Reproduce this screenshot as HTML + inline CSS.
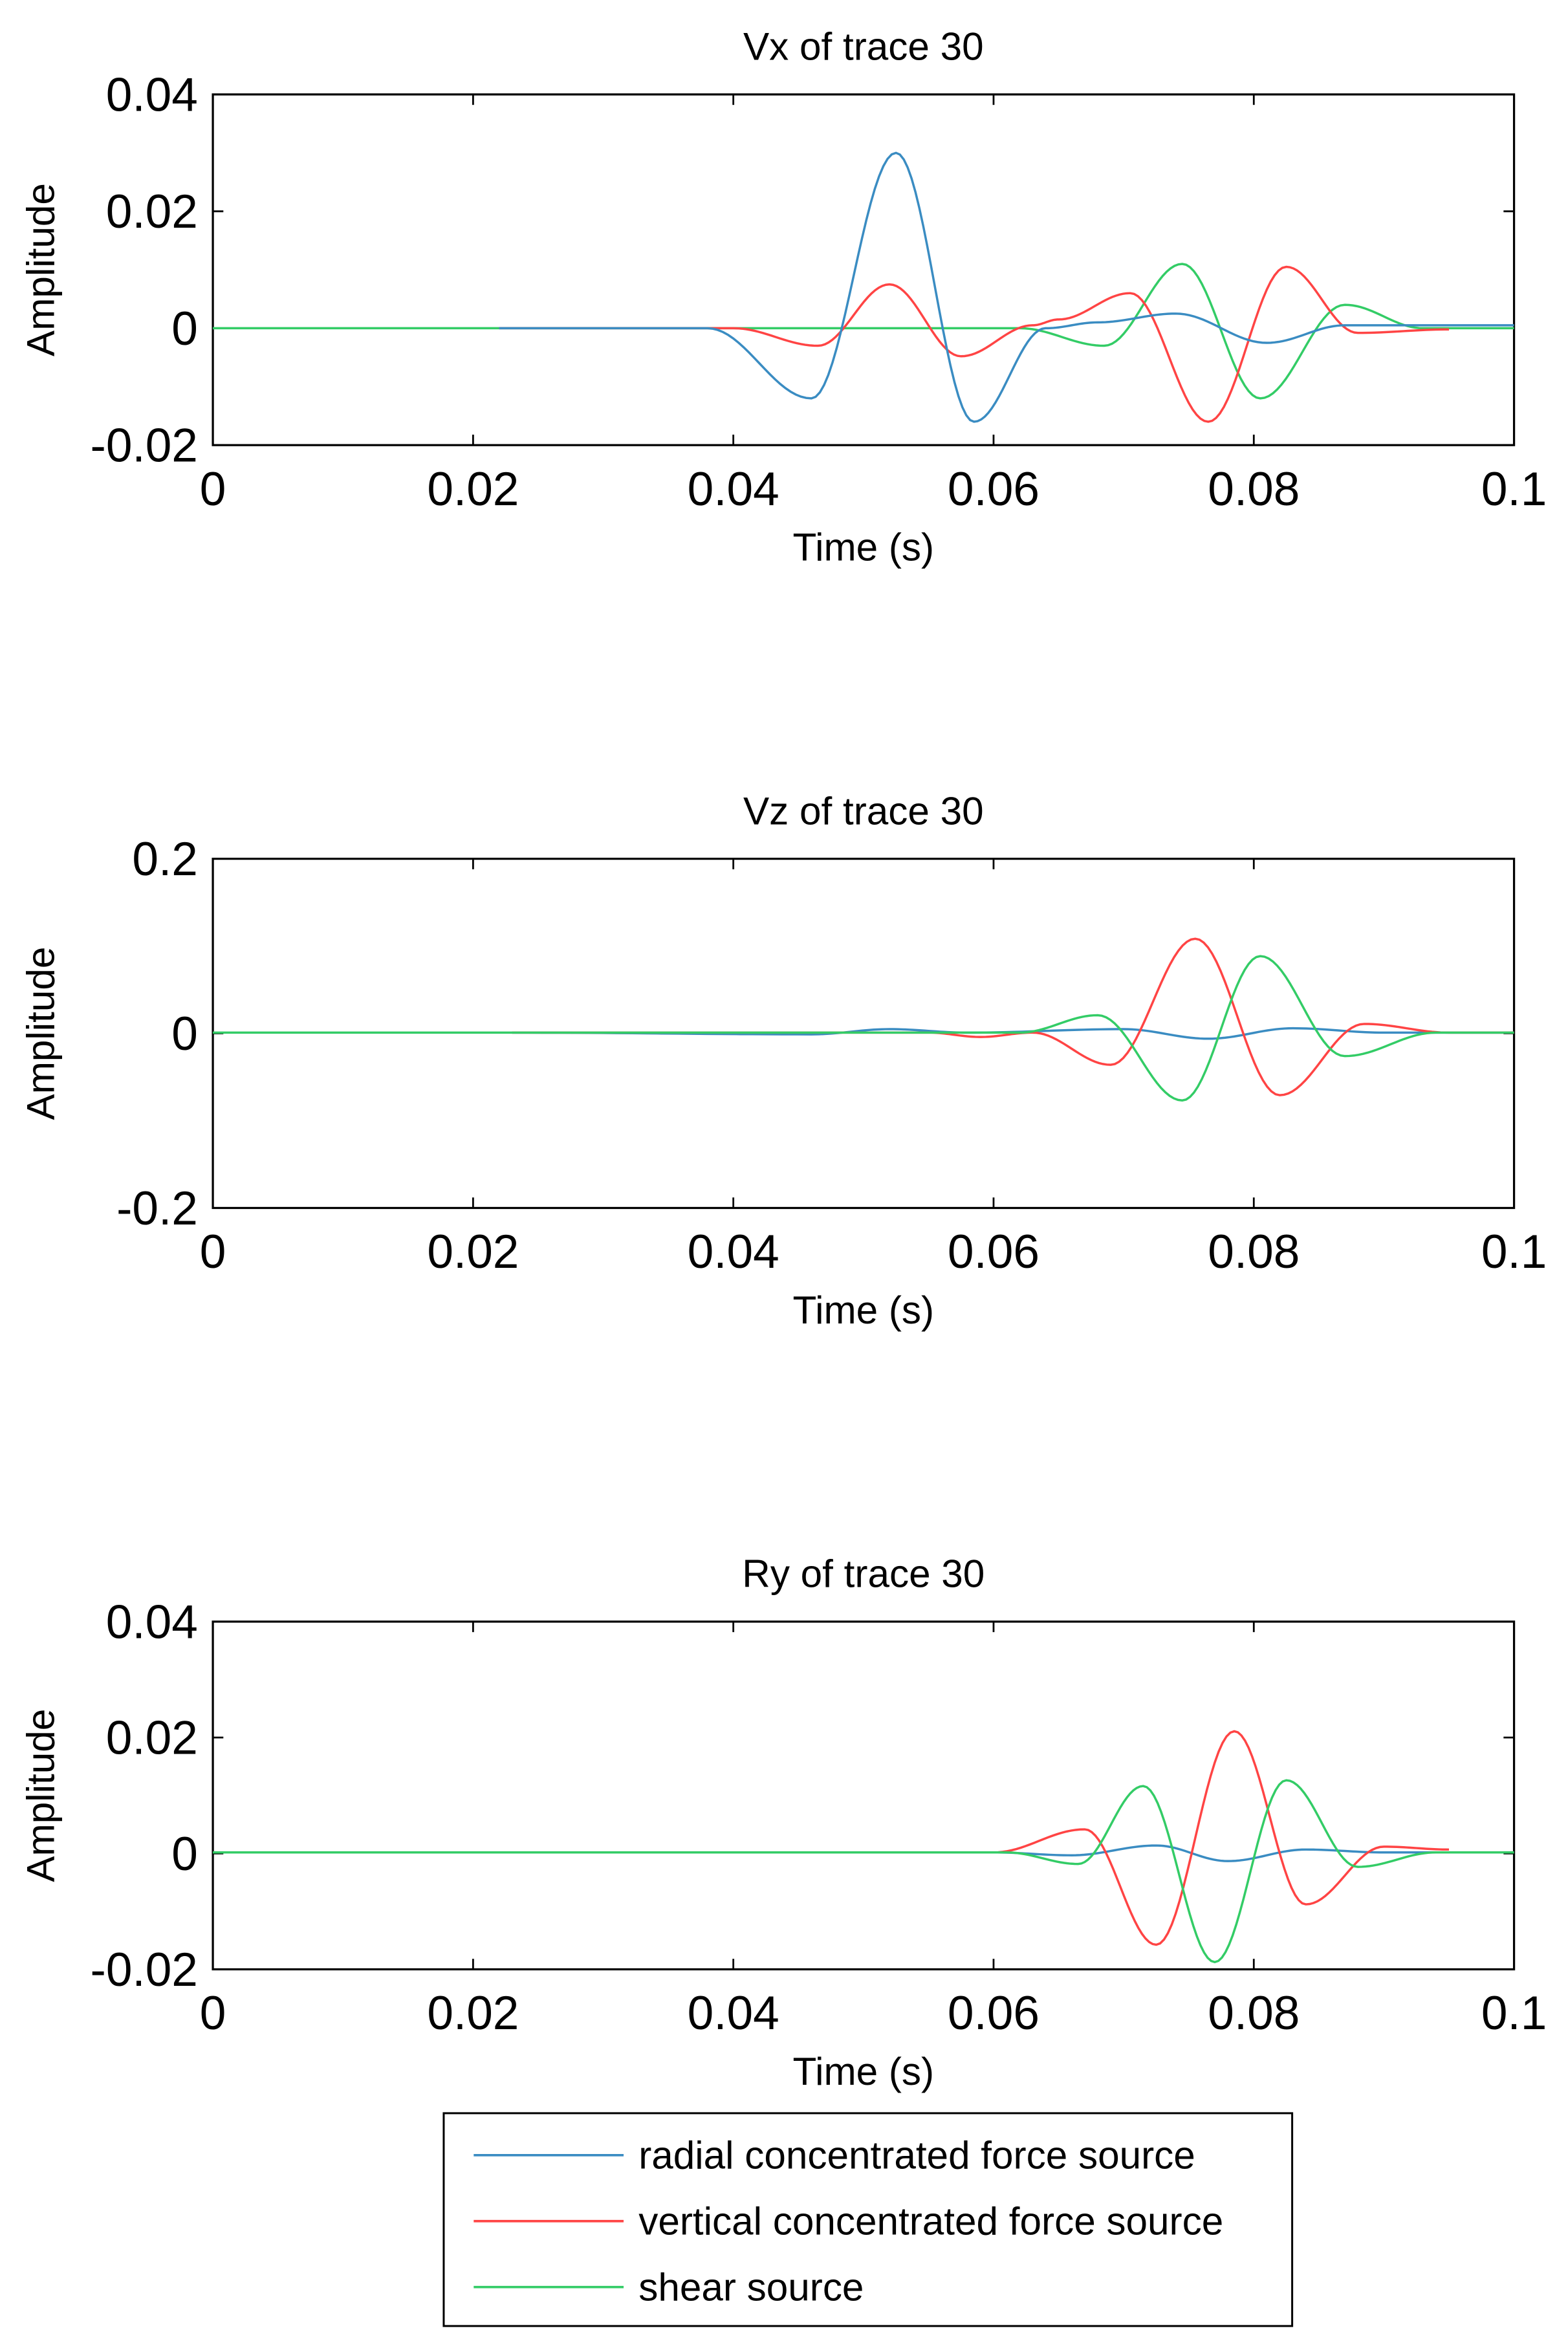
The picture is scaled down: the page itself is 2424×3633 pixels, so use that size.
<!DOCTYPE html>
<html><head><meta charset="utf-8"><style>
html,body{margin:0;padding:0;background:#fff;}
svg{display:block;}
text{font-family:"Liberation Sans",Arial,sans-serif;fill:#000;}
</style></head><body>
<svg id="s" width="2424" height="3633" viewBox="0 0 1046 1568" preserveAspectRatio="none" xmlns="http://www.w3.org/2000/svg">
<rect width="1046" height="1568" fill="#fff"/>
<g id="g"></g>
<rect x="296" y="1410" width="566" height="142" fill="none" stroke="#000" stroke-width="1.3"/>
<line x1="316" y1="1438" x2="416" y2="1438" stroke="#3a8cc2" stroke-width="1.6"/>
<line x1="316" y1="1482" x2="416" y2="1482" stroke="#ff4444" stroke-width="1.6"/>
<line x1="316" y1="1526" x2="416" y2="1526" stroke="#33cc66" stroke-width="1.6"/>
<text x="426" y="1447" font-size="26">radial concentrated force source</text>
<text x="426" y="1491" font-size="26">vertical concentrated force source</text>
<text x="426" y="1535" font-size="26">shear source</text>
</svg>
<script>
var NS="http://www.w3.org/2000/svg",g=document.getElementById('g');
function el(n,a,t){var e=document.createElementNS(NS,n);for(var k in a)e.setAttribute(k,a[k]);if(t!=null)e.textContent=t;g.appendChild(e);return e;}
var L=142,R=1010;
function X(t){return L+t/0.1*(R-L);}
function curve(pts,y0,sc,col){
 var d="";
 for(var i=0;i<pts.length-1;i++){
  var a=pts[i],b=pts[i+1];
  for(var k=0;k<=20;k++){var f=k/20,w=(1-Math.cos(Math.PI*f))/2;
   var t=a[0]+(b[0]-a[0])*f,v=a[1]+(b[1]-a[1])*w;
   d+=(d?"L":"M")+X(t).toFixed(2)+","+(y0-v*sc).toFixed(2);}
 }
 el('path',{d:d,fill:'none',stroke:col,'stroke-width':1.5});
}
function axes(top,bot,ylabels,title){
 el('rect',{x:L,y:top,width:R-L,height:bot-top,fill:'none',stroke:'#000','stroke-width':1.4});
 for(var i=0;i<=5;i++){var x=X(i*0.02);
  el('line',{x1:x,y1:top,x2:x,y2:top+7,stroke:'#000','stroke-width':1.2});
  el('line',{x1:x,y1:bot,x2:x,y2:bot-7,stroke:'#000','stroke-width':1.2});
  el('text',{x:x,y:bot+40,'font-size':31.5,'text-anchor':'middle'},['0','0.02','0.04','0.06','0.08','0.1'][i]);}
 for(var j=0;j<ylabels.length;j++){var y=top+(bot-top)*j/(ylabels.length-1);
  el('line',{x1:L,y1:y,x2:L+7,y2:y,stroke:'#000','stroke-width':1.2});
  el('line',{x1:R,y1:y,x2:R-7,y2:y,stroke:'#000','stroke-width':1.2});
  el('text',{x:L-10,y:y+11,'font-size':31.5,'text-anchor':'end'},ylabels[j]);}
 el('text',{x:576,y:top-23,'font-size':26,'text-anchor':'middle'},title);
 el('text',{x:576,y:bot+77,'font-size':26,'text-anchor':'middle'},'Time (s)');
 var cy=(top+bot)/2;
 el('text',{x:0,y:0,'font-size':26,'text-anchor':'middle',transform:'translate(36,'+cy+') rotate(-90)'},'Amplitude');
}
// Plot 1
axes(63,297,['0.04','0.02','0','-0.02'],'Vx of trace 30');
var y1=219,s1=3900;
curve([[0,0],[0.062,0],[0.0685,-0.003],[0.0745,0.011],[0.0805,-0.012],[0.087,0.004],[0.093,0],[0.1,0]],y1,s1,'#33cc66');
curve([[0.022,0],[0.040,0],[0.0465,-0.003],[0.052,0.0075],[0.0575,-0.0048],[0.063,0.0005],[0.065,0.0015],[0.0705,0.006],[0.0765,-0.016],[0.0825,0.0105],[0.088,-0.0008],[0.095,-0.0002]],y1,s1,'#ff4444');
curve([[0.022,0],[0.038,0],[0.046,-0.012],[0.0525,0.030],[0.0585,-0.016],[0.064,0],[0.068,0.001],[0.074,0.0025],[0.081,-0.0025],[0.087,0.0005],[0.1,0.0005]],y1,s1,'#3a8cc2');
// Plot 2
axes(573,806,['0.2','0','-0.2'],'Vz of trace 30');
var y2=689,s2=580;
curve([[0.023,0],[0.046,-0.002],[0.052,0.004],[0.058,0],[0.07,0.004],[0.0765,-0.007],[0.083,0.005],[0.09,0],[0.1,0]],y2,s2,'#3a8cc2');
curve([[0.023,0],[0.055,0],[0.059,-0.005],[0.063,0],[0.069,-0.037],[0.0755,0.108],[0.082,-0.072],[0.0885,0.01],[0.095,0],[0.1,0]],y2,s2,'#ff4444');
curve([[0,0],[0.062,0],[0.068,0.02],[0.0745,-0.078],[0.0805,0.088],[0.087,-0.027],[0.094,0],[0.1,0]],y2,s2,'#33cc66');
// Plot 3
axes(1082,1314,['0.04','0.02','0','-0.02'],'Ry of trace 30');
var y3=1236,s3=3850;
curve([[0.02,0],[0.06,0],[0.066,-0.0005],[0.0725,0.0012],[0.078,-0.0015],[0.084,0.0005],[0.09,0],[0.1,0]],y3,s3,'#3a8cc2');
curve([[0.02,0],[0.06,0],[0.067,0.004],[0.0725,-0.016],[0.0785,0.021],[0.084,-0.009],[0.09,0.001],[0.095,0.0005]],y3,s3,'#ff4444');
curve([[0,0],[0.061,0],[0.0665,-0.002],[0.0715,0.0115],[0.077,-0.019],[0.0825,0.0125],[0.088,-0.0025],[0.094,0],[0.1,0]],y3,s3,'#33cc66');
</script>
</body></html>
